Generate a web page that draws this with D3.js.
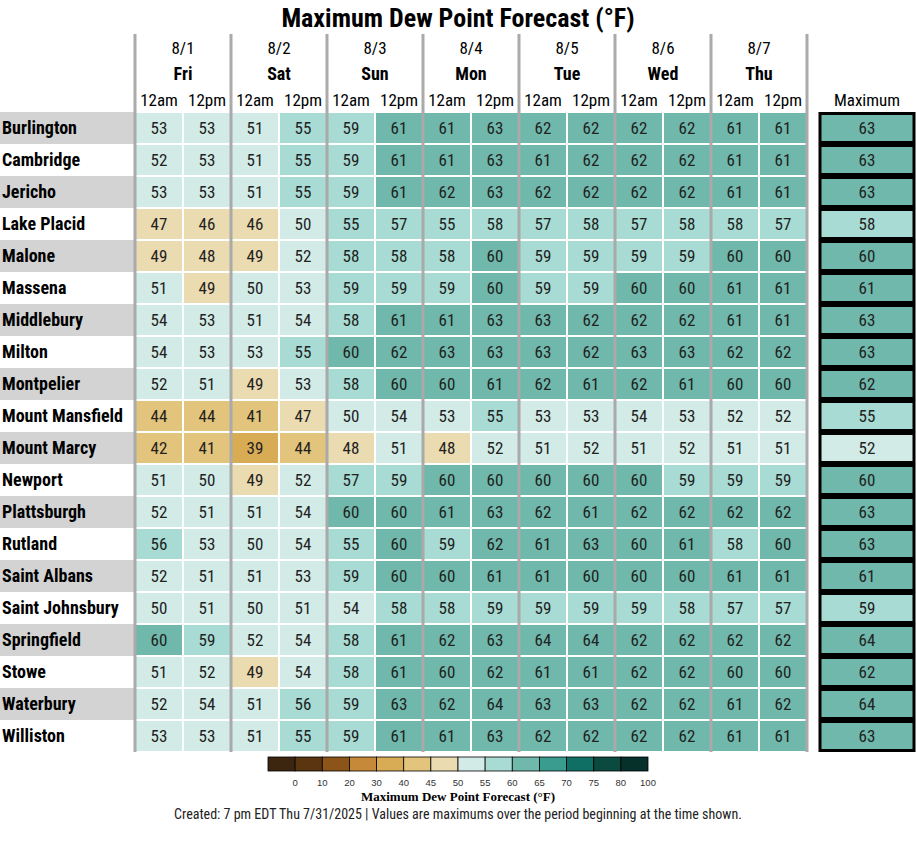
<!DOCTYPE html><html><head><meta charset="utf-8">
<script src="https://cdn.jsdelivr.net/npm/d3@7"></script>
<style>body{margin:0;background:#fff}</style></head><body><svg id="c" width="917" height="843"></svg>
<script>
const stations=["Burlington","Cambridge","Jericho","Lake Placid","Malone","Massena","Middlebury","Milton","Montpelier","Mount Mansfield","Mount Marcy","Newport","Plattsburgh","Rutland","Saint Albans","Saint Johnsbury","Springfield","Stowe","Waterbury","Williston"];
const dates=["8/1","8/2","8/3","8/4","8/5","8/6","8/7"];
const days=["Fri","Sat","Sun","Mon","Tue","Wed","Thu"];
const periods=["12am","12pm"];
const values=[
[53,53,51,55,59,61,61,63,62,62,62,62,61,61],
[52,53,51,55,59,61,61,63,61,62,62,62,61,61],
[53,53,51,55,59,61,62,63,62,62,62,62,61,61],
[47,46,46,50,55,57,55,58,57,58,57,58,58,57],
[49,48,49,52,58,58,58,60,59,59,59,59,60,60],
[51,49,50,53,59,59,59,60,59,59,60,60,61,61],
[54,53,51,54,58,61,61,63,63,62,62,62,61,61],
[54,53,53,55,60,62,63,63,63,62,63,63,62,62],
[52,51,49,53,58,60,60,61,62,61,62,61,60,60],
[44,44,41,47,50,54,53,55,53,53,54,53,52,52],
[42,41,39,44,48,51,48,52,51,52,51,52,51,51],
[51,50,49,52,57,59,60,60,60,60,60,59,59,59],
[52,51,51,54,60,60,61,63,62,61,62,62,62,62],
[56,53,50,54,55,60,59,62,61,63,60,61,58,60],
[52,51,51,53,59,60,60,61,61,60,60,60,61,61],
[50,51,50,51,54,58,58,59,59,59,59,58,57,57],
[60,59,52,54,58,61,62,63,64,64,62,62,62,62],
[51,52,49,54,58,61,60,62,61,61,62,62,60,60],
[52,54,51,56,59,63,62,64,63,63,62,62,61,62],
[53,53,51,55,59,61,61,63,62,62,62,62,61,61]];
const legendTicks=[0,10,20,30,40,45,50,55,60,65,70,75,80,100];
const binColors=["#3d2610","#5a3510","#8c5418","#c6893a","#d7ac55","#e3c47c","#eadbb1","#d3ebe7","#a7dbd3","#6fb8ab","#3a9c8e","#0f6f64","#0b4a3f","#06302a"];

const F='"Roboto Condensed","Liberation Sans Narrow",Roboto,sans-serif';
const svg=d3.select("#c");
const color=d3.scaleThreshold().domain(legendTicks).range(binColors);
const x=d3.scaleBand().domain(d3.range(14)).range([135,807]);
const y=d3.scaleBand().domain(d3.range(stations.length)).range([112,752]);
svg.append("text").attr("x",458).attr("y",27).attr("text-anchor","middle").attr("font-family",F).attr("font-weight","bold").attr("font-size",26).text("Maximum Dew Point Forecast (°F)");
// row label bg
stations.forEach((s,i)=>{
  if(i%2==0) svg.append("rect").attr("x",0).attr("y",y(i)).attr("width",135).attr("height",y.bandwidth()).attr("fill","#d3d3d3");
  svg.append("text").attr("x",2).attr("y",y(i)+y.bandwidth()/2+6).attr("font-family",F).attr("font-weight","bold").attr("font-size",18).text(s);
});
// cells
values.forEach((row,i)=>row.forEach((v,j)=>{
  svg.append("rect").attr("x",x(j)+1).attr("y",y(i)+1).attr("width",x.bandwidth()-2).attr("height",y.bandwidth()-2).attr("fill",color(v));
  svg.append("text").attr("x",x(j)+x.bandwidth()/2).attr("y",y(i)+y.bandwidth()/2+6).attr("text-anchor","middle").attr("font-family",F).attr("font-size",17).attr("fill","#222").text(v);
}));
// headers
dates.forEach((d,k)=>{
  const cx=x(2*k)+x.bandwidth();
  svg.append("text").attr("x",cx).attr("y",54).attr("text-anchor","middle").attr("font-family",F).attr("font-size",17).text(d);
  svg.append("text").attr("x",cx).attr("y",80).attr("text-anchor","middle").attr("font-family",F).attr("font-weight","bold").attr("font-size",18).text(days[k]);
  periods.forEach((p,m)=>svg.append("text").attr("x",x(2*k+m)+x.bandwidth()/2).attr("y",106).attr("text-anchor","middle").attr("font-family",F).attr("font-size",17).text(p));
});
d3.range(8).forEach(k=>svg.append("line").attr("x1",135+96*k).attr("x2",135+96*k).attr("y1",34).attr("y2",752).attr("stroke","#aaa").attr("stroke-width",3));
// max column
svg.append("text").attr("x",867).attr("y",106).attr("text-anchor","middle").attr("font-family",F).attr("font-size",17).text("Maximum");
values.forEach((row,i)=>{const m=d3.max(row);
  svg.append("rect").attr("x",820).attr("y",y(i)+1.5).attr("width",94).attr("height",y.bandwidth()-3).attr("fill",color(m)).attr("stroke","#000").attr("stroke-width",3);
  svg.append("text").attr("x",867).attr("y",y(i)+y.bandwidth()/2+6).attr("text-anchor","middle").attr("font-family",F).attr("font-size",17).attr("fill","#222").text(m);
});
// legend
const lx=d3.scaleLinear().domain([0,14]).range([268,648]);
binColors.forEach((c,i)=>svg.append("rect").attr("x",lx(i)).attr("y",757).attr("width",lx(1)-lx(0)).attr("height",14).attr("fill",c).attr("stroke","#000").attr("stroke-width",0.8));
legendTicks.forEach((t,i)=>svg.append("text").attr("x",lx(i+1)).attr("y",786).attr("text-anchor","middle").attr("font-family","Liberation Sans,Arial,sans-serif").attr("font-size",9.5).attr("fill","#333").text(t));
svg.append("text").attr("x",458).attr("y",801).attr("text-anchor","middle").attr("font-family","Liberation Serif,serif").attr("font-weight","bold").attr("font-size",13).text("Maximum Dew Point Forecast (°F)");
svg.append("text").attr("x",458).attr("y",819).attr("text-anchor","middle").attr("font-family",F).attr("font-size",14).attr("fill","#222").text("Created: 7 pm EDT Thu 7/31/2025  |  Values are maximums over the period beginning at the time shown.");
</script></body></html>
